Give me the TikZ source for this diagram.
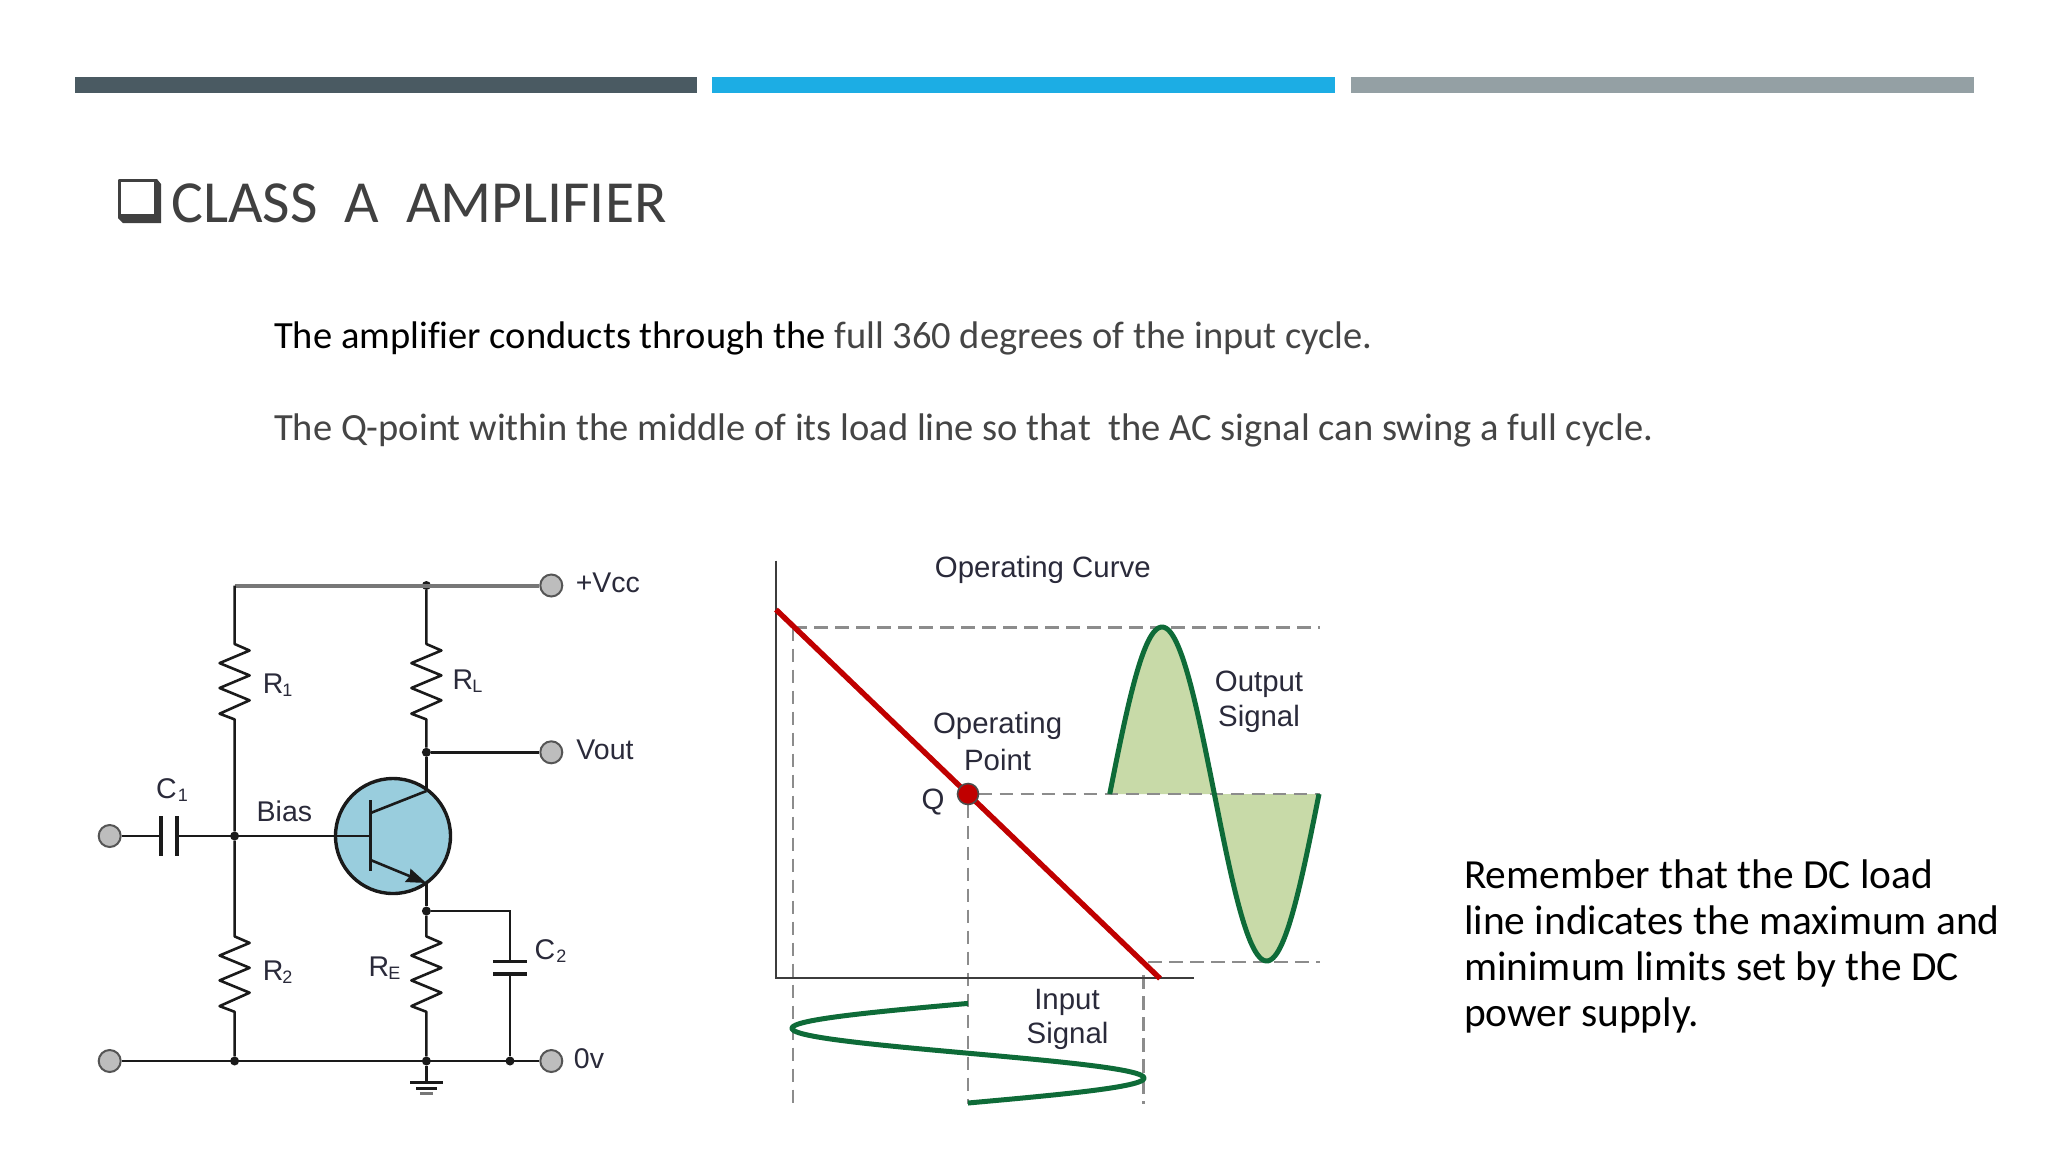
\documentclass[tikz,border=0pt]{standalone}
\usepackage{fontspec}
\setmainfont{Liberation Sans}
\newfontfamily\slidefont[Ligatures=NoCommon]{Carlito}
\newfontfamily\bodyfont[Ligatures=NoCommon]{Carlito}
\usetikzlibrary{arrows.meta}
\definecolor{barA}{HTML}{4A5A62}
\definecolor{barB}{HTML}{1CADE4}
\definecolor{barC}{HTML}{94A0A4}
\definecolor{ttl}{HTML}{404040}
\definecolor{bodygrey}{HTML}{454545}
\definecolor{wire}{HTML}{1A1A1A}
\definecolor{railgrey}{HTML}{777777}
\definecolor{termfill}{HTML}{BDBDBD}
\definecolor{termline}{HTML}{555555}
\definecolor{teal}{HTML}{99CDDD}
\definecolor{loadred}{HTML}{C00000}
\definecolor{siggreen}{HTML}{0E6B38}
\definecolor{sigfill}{HTML}{C8DAA8}
\definecolor{dashgrey}{HTML}{8C8C8C}
\definecolor{labelc}{HTML}{2A2A3A}
\tikzset{
 wireline/.style={draw=wire,line width=2.6pt},
 term/.style={circle,draw=termline,fill=termfill,line width=2pt,minimum size=22pt,inner sep=0pt},
 junction/.style={circle,fill=wire,minimum size=9pt,inner sep=0pt},
 clabel/.style={font=\fontsize{28.5}{28.5}\selectfont,text=labelc,inner sep=0pt},
 glabel/.style={font=\fontsize{29.4}{29.4}\selectfont,text=labelc,inner sep=0pt},
 dashline/.style={draw=dashgrey,line width=2.4pt,dash pattern=on 13.5pt off 7.5pt},
 sigline/.style={draw=siggreen,line width=5pt,line join=round},
 bodytext/.style={font=\bodyfont\fontsize{38.5}{38.5}\selectfont,anchor=base west,inner sep=0pt,text=bodygrey},
 sidetext/.style={font=\bodyfont\fontsize{41.4}{41.4}\selectfont,anchor=base west,inner sep=0pt,text=black},
}
\newcommand{\subs}[2]{#1\kern-1pt\raisebox{-3pt}{\fontsize{18}{18}\selectfont #2}}
\begin{document}
\begin{tikzpicture}[x=1pt,y=-1pt]
\useasboundingbox (0,0) rectangle (2048,1152);
\fill[white] (0,0) rectangle (2048,1152);
% bars
\fill[barA] (75,77) rectangle (697,92.5);
\fill[barB] (712,77) rectangle (1335,92.5);
\fill[barC] (1350.5,77) rectangle (1973.5,92.5);
% title
\fill[ttl] (119,179) -- (157,179) -- (161,184) -- (161,223) -- (123,223) -- (118,218) -- (118,180) -- cycle;
\fill[white] (120.5,182) rectangle (154,214);
\node[anchor=base west,inner sep=0pt,font=\slidefont\fontsize{59.7}{59.7}\selectfont,text=ttl] (title) at (171,222) {CLASS\ \ A\ \ AMPLIFIER};
% body
\node[bodytext] (b1) at (274,348) {\textcolor{black}{The amplifier conducts through the} full 360 degrees of the input cycle.};
\node[bodytext] (b2) at (274,440) {The Q-point within the middle of its load line so that\ \ the AC signal can swing a full cycle.};
\node[sidetext] (s1) at (1464,888) {Remember that the DC load};
\node[sidetext] (s2) at (1464,934) {line indicates the maximum and};
\node[sidetext] (s3) at (1464,980) {minimum limits set by the DC};
\node[sidetext] (s4) at (1464,1026) {power supply.};
% circuit
\coordinate (tl) at (234.6,585.5);
\node[junction] (jv) at (426.4,585.5) {};
\node[term] (tv) at (551.3,585.5) {};
\node[junction] (jo) at (426.4,752.3) {};
\node[term] (to) at (551.3,752.3) {};
\node[junction] (jb) at (234.6,836) {};
\node[term] (ti) at (109.7,836) {};
\node[junction] (je) at (426.4,911) {};
\node[junction] (g1) at (234.6,1061) {};
\node[junction] (g2) at (426.4,1061) {};
\node[junction] (g3) at (510,1061) {};
\node[term] (tb) at (109.7,1061) {};
\node[term] (tz) at (551.3,1061) {};
\draw[draw=railgrey,line width=4pt] (tl) -- (tv);
\draw[wireline,line join=round] (tl) -- (234.6,644) -- ++(15,6.5) -- ++(-30,12.6) -- ++(30,12.3) -- ++(-30,12.6) -- ++(30,12.3) -- ++(-30,13.4) -- ++(15,5.7) -- (jb);
\draw[wireline,line join=round] (jv) -- (426.4,644) -- ++(15,6.5) -- ++(-30,12.6) -- ++(30,12.3) -- ++(-30,12.6) -- ++(30,12.3) -- ++(-30,13.4) -- ++(15,5.7) -- (jo);
\draw[wireline,line join=round] (jb) -- (234.6,936.4) -- ++(15,6.5) -- ++(-30,12.6) -- ++(30,12.3) -- ++(-30,12.6) -- ++(30,12.3) -- ++(-30,13.4) -- ++(15,5.7) -- (g1);
\draw[wireline,line join=round] (je) -- (426.4,936.4) -- ++(15,6.5) -- ++(-30,12.6) -- ++(30,12.3) -- ++(-30,12.6) -- ++(30,12.3) -- ++(-30,13.4) -- ++(15,5.7) -- (g2);
\draw[wireline] (jo) -- (to);
\draw[wireline] (tb) -- (tz);
% transistor
\node[circle,draw=wire,fill=teal,line width=3.4pt,minimum size=115pt,inner sep=0pt] (q) at (393,836) {};
\draw[wireline] (jo) -- (426.4,791);
\draw[wireline] (426.4,883) -- (je);
\draw[wireline] (ti) -- (161,836);
\draw[wireline] (177,836) -- (370.6,836);
\draw[wireline,line width=3.2pt] (161,816) -- (161,856);
\draw[wireline,line width=3.2pt] (177,816) -- (177,856);
\draw[wireline,line width=3.2pt] (370.6,800) -- (370.6,871.4);
\draw[wireline] (370.6,813) -- (426.4,791);
\draw[wireline,-{Stealth[length=20pt,width=14pt,inset=2pt]}] (370.6,860) -- (426.4,883);
% C2
\coordinate (c2a) at (510,961.3);
\coordinate (c2b) at (510,974);
\draw[wireline,line width=2.2pt] (je) -- (510,911) -- (c2a);
\draw[wireline] (c2b) -- (g3);
\draw[wireline,line width=3.4pt] (493,961.3) -- (527,961.3);
\draw[wireline,line width=3.4pt] (493,974) -- (527,974);
% ground
\draw[wireline] (g2) -- (426.4,1082);
\draw[draw=wire,line width=3pt] (410,1082) -- (443,1082);
\draw[draw=wire,line width=3pt] (416,1088) -- (437,1088);
\draw[draw=railgrey,line width=3pt] (420,1093.7) -- (433,1093.7);
% labels
\node[clabel] (lv) at (607.9,583) {+Vcc};
\node[clabel] (lo) at (605,750) {Vout};
\node[clabel] (l0) at (589,1059) {0v};
\node[clabel] (r1) at (277.7,685) {\subs{R}{1}};
\node[clabel] (rl) at (467.5,681) {\subs{R}{L}};
\node[clabel] (c1) at (172,790) {\subs{C}{\kern2pt 1}};
\node[clabel] (bi) at (284.4,811) {Bias};
\node[clabel] (r2) at (277.7,972) {\subs{R}{2}};
\node[clabel] (re) at (384.5,968) {\subs{R}{E}};
\node[clabel] (c2) at (550.5,951) {\subs{C}{\kern2pt 2}};
% graph
\fill[sigfill,domain=0:180,samples=60,variable=\t] plot ({1109.7+\t/180*104.3},{794-166.4*sin(\t)}) -- cycle;
\fill[sigfill,domain=0:180,samples=60,variable=\t] plot ({1214+\t/180*105},{794+167.7*sin(\t)}) -- cycle;
\node[circle,inner sep=0pt,minimum size=21pt] (qp) at (968,794) {};
\draw[dashline] (793,627.6) -- (1320,627.6);
\draw[dashline] (qp) -- (1320,794);
\draw[dashline] (1148,961.7) -- (1320,961.7);
\draw[dashline] (793,627.6) -- (793,1104);
\draw[dashline] (qp) -- (968,1104);
\draw[dashline] (1143.4,975) -- (1143.4,1104);
\draw[draw=wire!85,line width=2.6pt] (776,560.6) -- (776,977.8) -- (1194,977.8);
\draw[draw=loadred,line width=5.4pt] (776,609.6) -- (1160,978.5);
\node[circle,draw=black!70,fill=loadred,line width=1.6pt,minimum size=21pt,inner sep=0pt] at (968,794) {};
\draw[sigline,domain=0:360,samples=120,variable=\t] plot ({1109.7+\t/360*209.3},{794-167*sin(\t)});
\draw[sigline,domain=0:360,samples=120,variable=\t] plot ({968-176*sin(\t)},{1003.4+\t/360*99.6});
\node[glabel] (lc) at (1042.8,569.5) {Operating Curve};
\node[glabel] (lp1) at (997.6,726) {Operating};
\node[glabel] (lp2) at (997.6,760) {Point};
\node[glabel] (lq) at (933,802) {Q};
\node[glabel] (lo1) at (1259,684) {Output};
\node[glabel] (lo2) at (1259,719) {Signal};
\node[glabel] (li1) at (1067,1002) {Input};
\node[glabel] (li2) at (1067.6,1036) {Signal};
\end{tikzpicture}
\end{document}
